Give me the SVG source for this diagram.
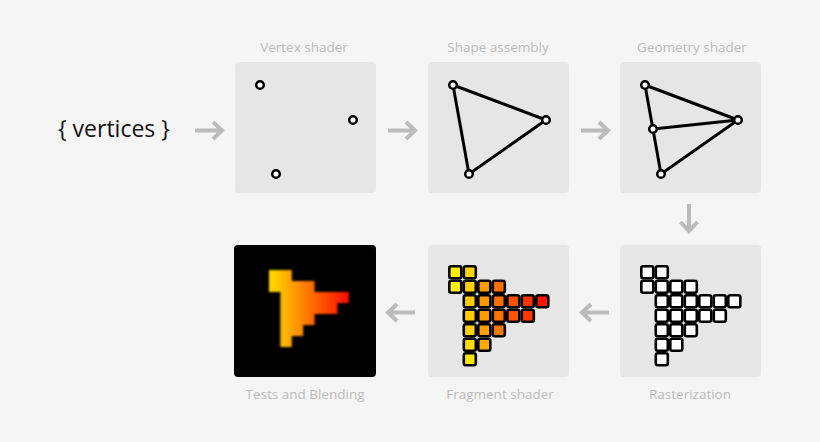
<svg xmlns="http://www.w3.org/2000/svg" width="820" height="442" viewBox="0 0 820 442">
<style>
.lbl{font-family:"Open Sans","Noto Sans","DejaVu Sans",sans-serif;font-size:13.5px;fill:#bbbbbb;text-anchor:middle}
.box{fill:#e6e6e6}
.arr{fill:none;stroke:#bbbbbb;stroke-width:4;stroke-linejoin:miter}
.v{fill:#ffffff;stroke:#000000;stroke-width:2.5}
.edge{stroke:#000000;stroke-width:3;fill:none}
.c{stroke:#000000;stroke-width:2.6}
.w{fill:#ffffff}
</style>
<defs>
<linearGradient id="tb" gradientUnits="userSpaceOnUse" x1="269" y1="0" x2="349" y2="0">
<stop offset="0" stop-color="#ffde00"/>
<stop offset="1" stop-color="#ff0a00"/>
</linearGradient>
<filter id="blur" x="-20%" y="-20%" width="140%" height="140%">
<feGaussianBlur stdDeviation="1.3"/>
</filter>
</defs>
<rect width="820" height="442" fill="#f5f5f5"/>

<text x="58" y="137" font-family="Open Sans, Noto Sans, DejaVu Sans, sans-serif" font-size="23" fill="#111111">{ vertices }</text>

<g id="vertex-shader">
<rect class="box" x="235" y="62" width="141" height="131" rx="4"/>
<text class="lbl" x="304" y="52">Vertex shader</text>
<circle class="v" cx="260" cy="85" r="3.8"/>
<circle class="v" cx="353" cy="120" r="3.8"/>
<circle class="v" cx="276" cy="174" r="3.8"/>
</g>

<g id="shape-assembly">
<rect class="box" x="428" y="62" width="141" height="131" rx="4"/>
<text class="lbl" x="498" y="52">Shape assembly</text>
<polygon class="edge" points="453,85 546,120 469,174"/>
<circle class="v" cx="453" cy="85" r="3.8"/>
<circle class="v" cx="546" cy="120" r="3.8"/>
<circle class="v" cx="469" cy="174" r="3.8"/>
</g>

<g id="geometry-shader">
<rect class="box" x="620" y="62" width="141" height="131" rx="4"/>
<text class="lbl" x="692" y="52">Geometry shader</text>
<polygon class="edge" points="645,85 738,120 661,174"/>
<line class="edge" x1="653" y1="129" x2="738" y2="120"/>
<circle class="v" cx="645" cy="85" r="3.8"/>
<circle class="v" cx="738" cy="120" r="3.8"/>
<circle class="v" cx="661" cy="174" r="3.8"/>
<circle class="v" cx="653" cy="129" r="3.8"/>
</g>

<g id="rasterization">
<rect class="box" x="620" y="245" width="141" height="132" rx="4"/>
<text class="lbl" x="690" y="399">Rasterization</text>
<g class="c w">
<rect x="641.3" y="266.3" width="12" height="12" rx="2"/>
<rect x="655.8" y="266.3" width="12" height="12" rx="2"/>
<rect x="641.3" y="280.8" width="12" height="12" rx="2"/>
<rect x="655.8" y="280.8" width="12" height="12" rx="2"/>
<rect x="670.3" y="280.8" width="12" height="12" rx="2"/>
<rect x="684.8" y="280.8" width="12" height="12" rx="2"/>
<rect x="655.8" y="295.3" width="12" height="12" rx="2"/>
<rect x="670.3" y="295.3" width="12" height="12" rx="2"/>
<rect x="684.8" y="295.3" width="12" height="12" rx="2"/>
<rect x="699.3" y="295.3" width="12" height="12" rx="2"/>
<rect x="713.8" y="295.3" width="12" height="12" rx="2"/>
<rect x="728.3" y="295.3" width="12" height="12" rx="2"/>
<rect x="655.8" y="309.8" width="12" height="12" rx="2"/>
<rect x="670.3" y="309.8" width="12" height="12" rx="2"/>
<rect x="684.8" y="309.8" width="12" height="12" rx="2"/>
<rect x="699.3" y="309.8" width="12" height="12" rx="2"/>
<rect x="713.8" y="309.8" width="12" height="12" rx="2"/>
<rect x="655.8" y="324.3" width="12" height="12" rx="2"/>
<rect x="670.3" y="324.3" width="12" height="12" rx="2"/>
<rect x="684.8" y="324.3" width="12" height="12" rx="2"/>
<rect x="655.8" y="338.8" width="12" height="12" rx="2"/>
<rect x="670.3" y="338.8" width="12" height="12" rx="2"/>
<rect x="655.8" y="353.3" width="12" height="12" rx="2"/>
</g>
</g>

<g id="fragment-shader">
<rect class="box" x="428" y="245" width="141" height="132" rx="4"/>
<text class="lbl" x="500" y="399">Fragment shader</text>
<g class="c">
<rect x="449.3" y="266.3" width="12" height="12" rx="2" fill="#fff200"/>
<rect x="463.8" y="266.3" width="12" height="12" rx="2" fill="#ffd400"/>
<rect x="449.3" y="280.8" width="12" height="12" rx="2" fill="#fff200"/>
<rect x="463.8" y="280.8" width="12" height="12" rx="2" fill="#ffd000"/>
<rect x="478.3" y="280.8" width="12" height="12" rx="2" fill="#ff9a00"/>
<rect x="492.8" y="280.8" width="12" height="12" rx="2" fill="#ff7000"/>
<rect x="463.8" y="295.3" width="12" height="12" rx="2" fill="#ffcc00"/>
<rect x="478.3" y="295.3" width="12" height="12" rx="2" fill="#ff9800"/>
<rect x="492.8" y="295.3" width="12" height="12" rx="2" fill="#ff7000"/>
<rect x="507.3" y="295.3" width="12" height="12" rx="2" fill="#ff5200"/>
<rect x="521.8" y="295.3" width="12" height="12" rx="2" fill="#ff3400"/>
<rect x="536.3" y="295.3" width="12" height="12" rx="2" fill="#ff1400"/>
<rect x="463.8" y="309.8" width="12" height="12" rx="2" fill="#ffcc00"/>
<rect x="478.3" y="309.8" width="12" height="12" rx="2" fill="#ff9a00"/>
<rect x="492.8" y="309.8" width="12" height="12" rx="2" fill="#ff7000"/>
<rect x="507.3" y="309.8" width="12" height="12" rx="2" fill="#ff5400"/>
<rect x="521.8" y="309.8" width="12" height="12" rx="2" fill="#ff3800"/>
<rect x="463.8" y="324.3" width="12" height="12" rx="2" fill="#ffd200"/>
<rect x="478.3" y="324.3" width="12" height="12" rx="2" fill="#ffa000"/>
<rect x="492.8" y="324.3" width="12" height="12" rx="2" fill="#ff7800"/>
<rect x="463.8" y="338.8" width="12" height="12" rx="2" fill="#ffe000"/>
<rect x="478.3" y="338.8" width="12" height="12" rx="2" fill="#ffaa00"/>
<rect x="463.8" y="353.3" width="12" height="12" rx="2" fill="#ffe800"/>
</g>
</g>

<g id="tests-and-blending">
<rect x="234" y="245" width="142" height="132" rx="4" fill="#000000"/>
<text class="lbl" x="305" y="399">Tests and Blending</text>
<polygon fill="url(#tb)" filter="url(#blur)" points="269,270 291.8,270 291.8,281 314.6,281 314.6,292 348.8,292 348.8,303 337.4,303 337.4,314 314.6,314 314.6,325 303.2,325 303.2,336 291.8,336 291.8,347 280.4,347 280.4,292 269,292"/>
</g>

<g id="connectors">
<path class="arr" d="M195,130.5 H222 M213,122 L222,130.5 L213,139"/>
<path class="arr" d="M388,130.5 H415 M406,122 L415,130.5 L406,139"/>
<path class="arr" d="M581,130.5 H608 M599,122 L608,130.5 L599,139"/>
<path class="arr" d="M689,204 V231 M680.5,222 L689,231 L697.5,222"/>
<path class="arr" d="M415,312.5 H388 M397,304 L388,312.5 L397,321"/>
<path class="arr" d="M609,312.5 H582 M591,304 L582,312.5 L591,321"/>
</g>
</svg>
